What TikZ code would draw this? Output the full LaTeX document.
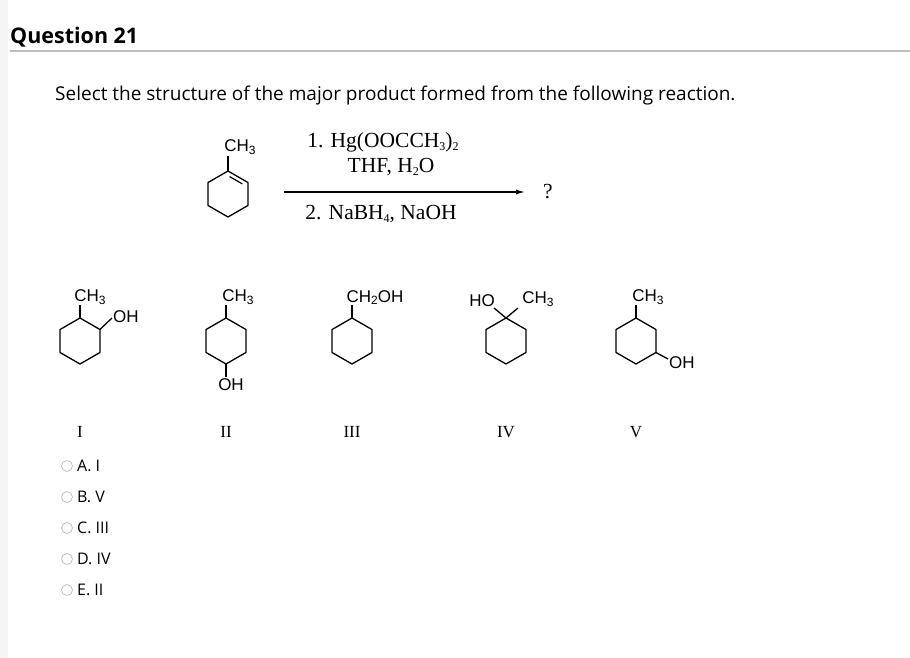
\documentclass[tikz,border=0pt]{standalone}
\usepackage{fontspec}
\setmainfont{Open Sans}
\newfontfamily\arialfont{Liberation Sans}
\newfontfamily\timesfont{Liberation Serif}
\usetikzlibrary{arrows.meta,calc}
\newcommand{\hexring}[2]{%
  \foreach \i/\a in {1/90,2/30,3/-30,4/-90,5/-150,6/150}{\coordinate (#1\i) at ($(#2)+(-\a:23)$);}
  \draw[bond] (#11)--(#12)--(#13)--(#14)--(#15)--(#16)--cycle;}
\newcommand{\sub}[1]{\raisebox{-0.3ex}{\fontsize{12}{12}\selectfont #1}}
\begin{document}
\begin{tikzpicture}[x=1pt,y=-1pt,
  bond/.style={line width=1.3pt,line join=round},
  lab/.style={font=\arialfont\fontsize{17}{17}\selectfont,inner sep=0pt},
  rea/.style={font=\timesfont\fontsize{21.5}{21.5}\selectfont,inner sep=0pt},
  rom/.style={font=\timesfont\fontsize{17}{17}\selectfont,inner sep=0pt},
  opt/.style={font=\fontsize{16}{16}\selectfont,inner sep=0pt,anchor=west},
  radio/.style={circle,draw=black!25,line width=0.8pt,minimum size=11pt,inner sep=0pt}]
\useasboundingbox[fill=white] (0,0) rectangle (910,658);
\fill[black!4] (0,0) rectangle (8,658);
\node[anchor=west,font=\bfseries\fontsize{21.5}{21.5}\selectfont,inner sep=0pt] (title) at (10,37) {Question 21};
\draw[black!25,line width=1.2pt] (10,51) -- (910,51);
\node[anchor=west,font=\fontsize{19}{19}\selectfont,inner sep=0pt] (q) at (55,96) {Select the structure of the major product formed from the following reaction.};
% reactant
\coordinate (rc) at (228,194);
\hexring{r}{rc}
\coordinate (rm) at (228,156);
\draw[bond] (r1)--(rm);
\node[lab,anchor=south] (rch) at (240,155) {CH\sub{3}};
\draw[line width=1.2pt] ($(r1)!0.18!(r2)+(-2,3.5)$) -- ($(r1)!0.82!(r2)+(-2,3.5)$);
% arrow
\coordinate (a1) at (284,192); \coordinate (a2) at (525,192);
\draw[line width=1.2pt,-{Latex[length=9pt,width=5pt]}] (a1)--(a2);
\node[rea] (c1) at (383,142) {1. Hg(OOCCH\sub{3})\sub{2}};
\node[rea] (c2) at (391,167) {THF, H\sub{2}O};
\node[rea] (c3) at (381,214) {2. NaBH\sub{4}, NaOH};
\node[rea] (qm) at (548,192) {?};
% I
\coordinate (c1c) at (80,341); \hexring{i}{c1c}
\coordinate (im) at (80,305); \draw[bond] (i1)--(im);
\node[lab,anchor=south] (ich) at (90,305) {CH\sub{3}};
\coordinate (io) at (112,318); \draw[bond] (i2)--(io);
\node[lab,anchor=west] (ioh) at (113,317) {OH};
% II
\coordinate (c2c) at (226,341); \hexring{ii}{c2c}
\coordinate (iim) at (226,305); \draw[bond] (ii1)--(iim);
\node[lab,anchor=south] (iich) at (238,305) {CH\sub{3}};
\coordinate (iio) at (226,377); \draw[bond] (ii4)--(iio);
\node[lab,anchor=north] (iioh) at (231,378) {OH};
% III
\coordinate (c3c) at (352,341); \hexring{iii}{c3c}
\coordinate (iiim) at (352,305); \draw[bond] (iii1)--(iiim);
\node[lab,anchor=south] (iiich) at (375,305) {CH\sub{2}OH};
% IV
\coordinate (c4c) at (506,341); \hexring{iv}{c4c}
\coordinate (ivl) at (494,308); \coordinate (ivr) at (518,308);
\draw[bond] (iv1)--(ivl); \draw[bond] (iv1)--(ivr);
\node[lab,anchor=south] (ivho) at (482,307) {HO};
\node[lab,anchor=south] (ivch) at (538,307) {CH\sub{3}};
% V
\coordinate (c5c) at (636,341); \hexring{v}{c5c}
\coordinate (vm) at (636,305); \draw[bond] (v1)--(vm);
\node[lab,anchor=south] (vch) at (648,305) {CH\sub{3}};
\coordinate (vo) at (668,359); \draw[bond] (v3)--(vo);
\node[lab,anchor=west] (voh) at (669,363) {OH};
% roman
\node[rom] (n1) at (80,432) {I};
\node[rom] (n2) at (226,432) {II};
\node[rom] (n3) at (352,432) {III};
\node[rom] (n4) at (506,432) {IV};
\node[rom] (n5) at (636,432) {V};
% options
\foreach \y/\t [count=\k] in {466/A. I,497/B. V,528/C. III,559/D. IV,590/E. II}{
  \node[radio] (rb\k) at (67,\y) {};
  \node[opt] (ot\k) at (77,\y) {\t};}
\end{tikzpicture}
\end{document}
